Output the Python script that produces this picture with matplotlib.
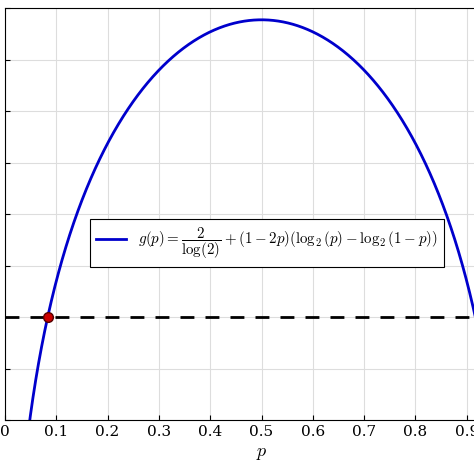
import matplotlib.pyplot as plt
import numpy as np

plt.rcParams['mathtext.fontset'] = 'cm'
plt.rcParams['font.family'] = 'serif'
plt.rcParams['font.serif'] = ['DejaVu Serif']

p = np.linspace(0.001, 0.999, 2000)
g = 2 / np.log(2) + (1 - 2 * p) * (np.log2(p) - np.log2(1 - p))
root_p = 0.0832
x_ticks = [0, 0.1, 0.2, 0.3, 0.4, 0.5, 0.6, 0.7, 0.8, 0.9, 1.0]
x_labels = ['0', '0.1', '0.2', '0.3', '0.4', '0.5', '0.6', '0.7', '0.8', '0.9', '1']

fig = plt.figure(figsize=(4.74, 4.74), dpi=100)
ax = fig.add_axes([5 / 474, 54 / 474, 513 / 474, 412 / 474])
ax.plot(p, g, color='#0000cc', lw=2,
        label=r'$g(p)=\dfrac{2}{\log(2)}+(1-2p)(\log_2(p)-\log_2(1-p))$')
ax.axhline(0, color='black', ls='--', lw=2, dashes=(5, 4))
ax.plot(root_p, 0, 'o', color='#cc0000', markeredgecolor='#550000', ms=7, zorder=5)
ax.set_xlim(0, 1)
ax.set_ylim(-1, 3)
ax.set_xticks(x_ticks)
ax.set_xticklabels(x_labels, fontsize=11)
ax.set_yticks(np.arange(-1, 3.01, 0.5))
ax.tick_params(direction='in', labelleft=False)
ax.grid(True, color='#dddddd', lw=0.8)
ax.set_xlabel(r'$p$', fontsize=13)
leg = ax.legend(loc='center left', bbox_to_anchor=(0.152, 0.43), fontsize=10.8,
                fancybox=False, edgecolor='black', framealpha=1)
leg.get_frame().set_linewidth(0.8)
plt.savefig('out.png', dpi=100)
